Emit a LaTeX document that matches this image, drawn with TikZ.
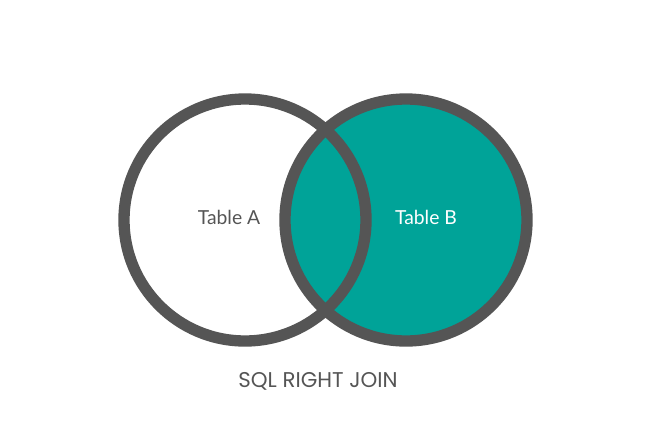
\documentclass[tikz,border=0pt]{standalone}
\usepackage{fontspec}
\setmainfont{Lato}
\newfontfamily\titlefont{Poppins}
\definecolor{teal1}{HTML}{00A398}
\definecolor{ring}{HTML}{555555}
\begin{document}
\begin{tikzpicture}[x=0.75pt,y=-0.75pt,
  ringstyle/.style={draw=ring,line width=8.5pt}]
\useasboundingbox (0,0) rectangle (654,436);
\coordinate (ca) at (245,220);
\coordinate (cb) at (406,220);
\fill[teal1] (cb) circle (121);
\begin{scope}
\clip (ca) circle (121);
\fill[teal1] (cb) circle (121);
\end{scope}
\draw[ringstyle] (ca) circle (121);
\draw[ringstyle] (cb) circle (121);
\node[text=ring,font=\fontsize{14.5}{17}\selectfont] (ta) at (229,217) {Table A};
\node[text=white,font=\fontsize{14.5}{17}\selectfont] (tb) at (426,217) {Table B};
\node[text=ring,font=\titlefont\fontsize{16}{19}\selectfont] (title) at (318,381) {SQL RIGHT JOIN};
\end{tikzpicture}
\end{document}
